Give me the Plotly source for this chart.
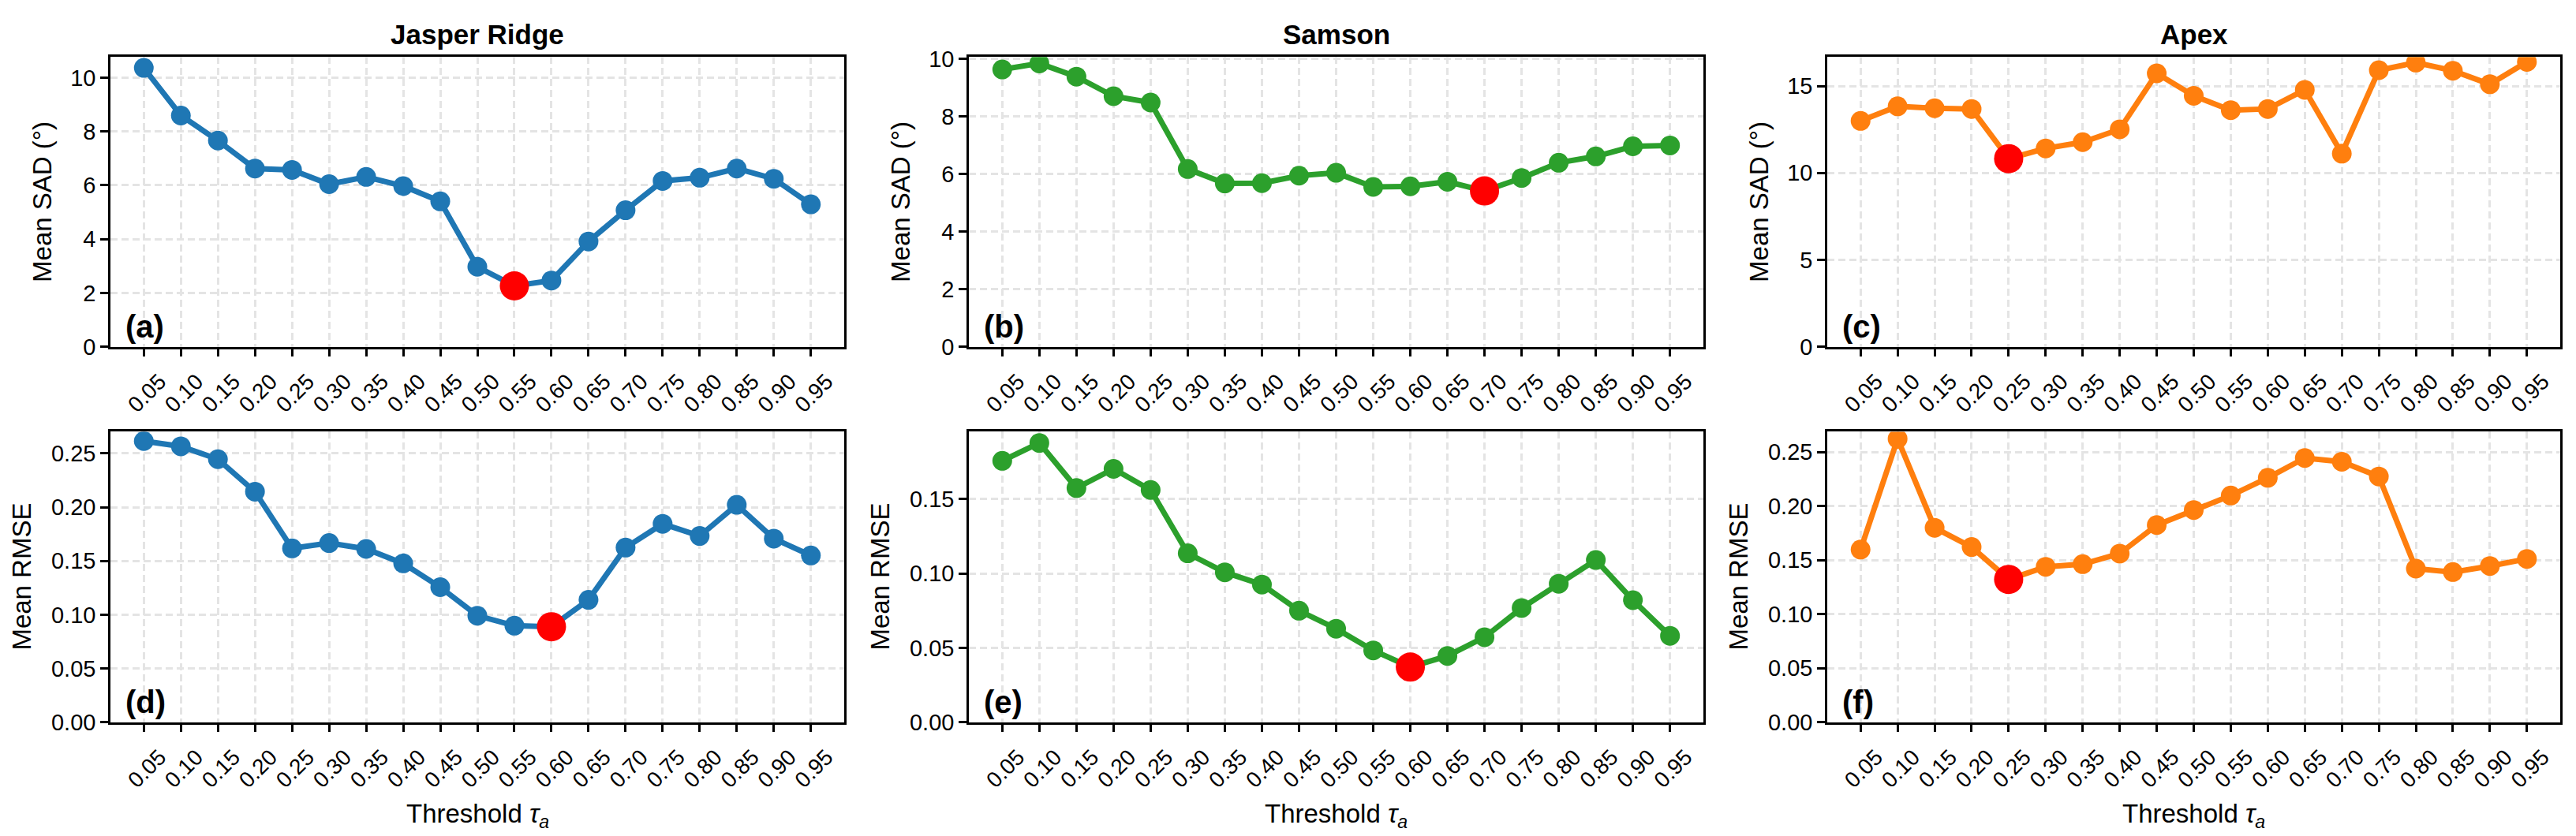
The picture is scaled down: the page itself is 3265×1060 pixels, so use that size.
import plotly.graph_objects as go

# ---------------- data ----------------
thresholds = ["0.05", "0.10", "0.15", "0.20", "0.25", "0.30", "0.35", "0.40", "0.45", "0.50",
              "0.55", "0.60", "0.65", "0.70", "0.75", "0.80", "0.85", "0.90", "0.95"]

jasper_sad = [10.36, 8.59, 7.66, 6.62, 6.57, 6.04, 6.31, 5.97, 5.40, 2.97,
              2.26, 2.46, 3.91, 5.07, 6.16, 6.28, 6.62, 6.24, 5.29]
samson_sad = [9.63, 9.84, 9.38, 8.70, 8.48, 6.17, 5.67, 5.68, 5.94, 6.04,
              5.55, 5.57, 5.73, 5.41, 5.86, 6.39, 6.61, 6.96, 6.99]
apex_sad = [12.99, 13.83, 13.72, 13.68, 10.82, 11.41, 11.77, 12.51, 15.73, 14.44,
            13.61, 13.68, 14.78, 11.11, 15.91, 16.35, 15.88, 15.10, 16.39]

jasper_rmse = [0.2615, 0.2566, 0.2446, 0.2144, 0.1617, 0.1666, 0.1612, 0.1477, 0.1256, 0.0991,
               0.0898, 0.0888, 0.1138, 0.1624, 0.1845, 0.1732, 0.2022, 0.1708, 0.1551]
samson_rmse = [0.1758, 0.1878, 0.1575, 0.1704, 0.1562, 0.1136, 0.1008, 0.0926, 0.0750, 0.0629,
               0.0483, 0.0371, 0.0446, 0.0572, 0.0768, 0.0931, 0.1091, 0.0821, 0.0581]
apex_rmse = [0.1597, 0.2622, 0.1799, 0.1621, 0.1321, 0.1438, 0.1462, 0.1560, 0.1824, 0.1963,
             0.2097, 0.2261, 0.2444, 0.2410, 0.2273, 0.1421, 0.1389, 0.1445, 0.1511]

datasets = ["Jasper Ridge", "Samson", "Apex"]
panel_labels = ["(a)", "(b)", "(c)", "(d)", "(e)", "(f)"]
series = [jasper_sad, samson_sad, apex_sad, jasper_rmse, samson_rmse, apex_rmse]
y_titles = ["Mean SAD (°)"] * 3 + ["Mean RMSE"] * 3
y_ticks = [[0, 2, 4, 6, 8, 10], [0, 2, 4, 6, 8, 10], [0, 5, 10, 15],
           [0, 0.05, 0.10, 0.15, 0.20, 0.25], [0, 0.05, 0.10, 0.15], [0, 0.05, 0.10, 0.15, 0.20, 0.25]]
x_title = "Threshold <i>τ</i><sub><i>a</i></sub>"

# ---------------- styling ----------------
W, H = 3265, 1060
colors = ["#1f77b4", "#2ca02c", "#ff7f0e"]
FONT = "Liberation Sans, Arial, sans-serif"
col_px = [(140, 1070), (1228, 2159), (2316, 3245)]
row_px = [(60, 438), (549, 928)]

fig = go.Figure()
layout = dict(
    width=W, height=H, margin=dict(l=0, r=0, t=0, b=0),
    paper_bgcolor="white", plot_bgcolor="white", showlegend=False,
    font=dict(family=FONT, color="black"),
)
annotations = []

for i, vals in enumerate(series):
    r, c = divmod(i, 3)
    xa = "x" if i == 0 else f"x{i + 1}"
    ya = "y" if i == 0 else f"y{i + 1}"
    xkey = "xaxis" if i == 0 else f"xaxis{i + 1}"
    ykey = "yaxis" if i == 0 else f"yaxis{i + 1}"
    color = colors[c]

    fig.add_trace(go.Scatter(
        x=thresholds, y=vals, xaxis=xa, yaxis=ya, mode="lines+markers",
        line=dict(color=color, width=7), marker=dict(color=color, size=25),
        hoverinfo="skip"))
    best = min(range(len(vals)), key=lambda k: vals[k])
    fig.add_trace(go.Scatter(
        x=[thresholds[best]], y=[vals[best]], xaxis=xa, yaxis=ya, mode="markers",
        marker=dict(color="#ff0000", size=37, line=dict(width=0)), hoverinfo="skip"))

    vmax, vmin = max(vals), min(vals)
    ytop = vmax + 0.05 * (vmax - vmin)
    x0, x1 = col_px[c]
    y0, y1 = row_px[r]
    axis_common = dict(
        showline=True, linecolor="black", linewidth=2.5, mirror=True,
        ticks="outside", ticklen=10, tickwidth=2.5, tickcolor="black",
        showgrid=True, gridcolor="#e4e4e4", gridwidth=2.5, griddash="9px,5px",
        zeroline=False, tickfont=dict(family=FONT, size=29, color="black"),
    )
    layout[xkey] = dict(
        axis_common, domain=[x0 / W, x1 / W], anchor=ya, type="category",
        range=[-0.9, len(thresholds) - 1 + 0.9], tickangle=-45,
        ticklabelshift=20, ticklabelstandoff=4,
        tickfont=dict(family=FONT, size=28, color="black"))
    fmt = ".2f" if r == 1 else "d"
    layout[ykey] = dict(
        axis_common, domain=[1 - y1 / H, 1 - y0 / H], anchor=xa,
        range=[0, ytop], tickvals=y_ticks[i],
        ticktext=[format(v, fmt) if r == 1 else str(int(v)) for v in y_ticks[i]])

    # panel label
    annotations.append(dict(
        text=f"<b>{panel_labels[i]}</b>", xref=f"{xa} domain", yref=f"{ya} domain",
        x=0.018, y=0.005, xanchor="left", yanchor="bottom", showarrow=False,
        font=dict(family=FONT, size=40, color="black")))
    # y axis title
    offset = 86 if r == 0 else 112
    annotations.append(dict(
        text=y_titles[i], xref="paper", yref="paper",
        x=(x0 - offset) / W, y=1 - (y0 + y1) / 2 / H, xanchor="center", yanchor="middle",
        textangle=-90, showarrow=False, font=dict(family=FONT, size=33, color="black")))
    if r == 0:
        annotations.append(dict(
            text=f"<b>{datasets[c]}</b>", xref="paper", yref="paper",
            x=(x0 + x1) / 2 / W, y=1 - 30 / H, xanchor="center", yanchor="middle",
            showarrow=False, font=dict(family=FONT, size=35, color="black")))
    else:
        annotations.append(dict(
            text=x_title, xref="paper", yref="paper",
            x=(x0 + x1) / 2 / W, y=1 - 1050 / H, xanchor="center", yanchor="middle",
            showarrow=False, font=dict(family=FONT, size=33, color="black")))

layout["annotations"] = annotations
fig.update_layout(**layout)
fig.write_html("out.html")
